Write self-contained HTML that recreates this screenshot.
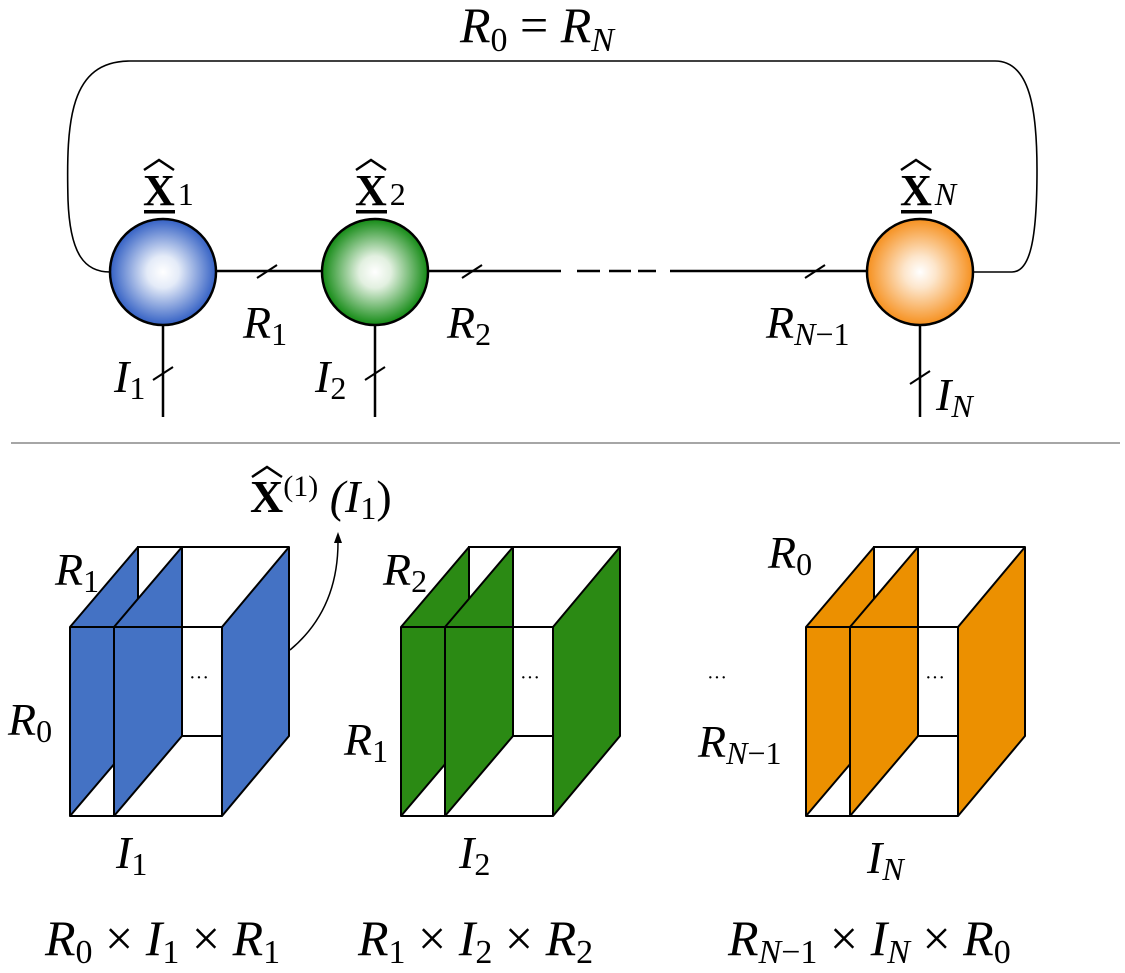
<!DOCTYPE html>
<html><head><meta charset="utf-8"><style>
html,body{margin:0;padding:0;background:#fff;}
svg{display:block;}
text{font-family:"Liberation Serif",serif;fill:#000;}
.it{font-style:italic;}
</style></head><body>
<svg width="1125" height="973" viewBox="0 0 1125 973" xmlns="http://www.w3.org/2000/svg">
<defs>
<radialGradient id="gb" cx="50%" cy="50%" r="50%"><stop offset="0" stop-color="#fff"/><stop offset="0.3" stop-color="#e4ebf8"/><stop offset="1" stop-color="#3360c4"/></radialGradient>
<radialGradient id="gg" cx="50%" cy="50%" r="50%"><stop offset="0" stop-color="#fff"/><stop offset="0.3" stop-color="#e2f0e0"/><stop offset="1" stop-color="#138a14"/></radialGradient>
<radialGradient id="go" cx="50%" cy="50%" r="50%"><stop offset="0" stop-color="#fff"/><stop offset="0.3" stop-color="#fde6cc"/><stop offset="1" stop-color="#f6901e"/></radialGradient>
<g id="cube">
 <polyline points="138,736 138,547 289,547" fill="none" stroke="#000" stroke-width="2"/>
 <line x1="182" y1="736" x2="289" y2="736" stroke="#000" stroke-width="2"/>
 <polygon points="70,627 138,547 138,736 70,816" stroke="#000" stroke-width="2" stroke-linejoin="round"/>
 <polygon points="114,627 182,547 182,736 114,816" stroke="#000" stroke-width="2" stroke-linejoin="round"/>
 <polygon points="222,627 289,547 289,736 222,816" stroke="#000" stroke-width="2" stroke-linejoin="round"/>
 <line x1="70" y1="627" x2="222" y2="627" stroke="#000" stroke-width="2"/>
 <line x1="70" y1="816" x2="222" y2="816" stroke="#000" stroke-width="2"/>
 <text x="189" y="684" font-size="20">···</text>
</g>
<path id="hat" d="M0,10 L15,0 L30,10" fill="none" stroke="#000" stroke-width="2.5"/>
</defs>

<!-- top loop -->
<path d="M110,272 C85,272 70,255 68,200 C66,120 70,61 130,61 L995,61 C1030,61 1037,110 1037,170 C1037,240 1030,272 1012,272 L973,272" fill="none" stroke="#000" stroke-width="1.6"/>
<text x="460" y="42" font-size="50" class="it">R<tspan font-size="34" dy="9" font-style="normal">0</tspan><tspan dy="-9" font-style="normal"> = </tspan>R<tspan font-size="34" dy="9">N</tspan></text>

<!-- main line -->
<line x1="216" y1="271" x2="561" y2="271" stroke="#000" stroke-width="2.5"/>
<line x1="577" y1="271" x2="600" y2="271" stroke="#000" stroke-width="2.5"/>
<line x1="609" y1="271" x2="631" y2="271" stroke="#000" stroke-width="2.5"/>
<line x1="638" y1="271" x2="656" y2="271" stroke="#000" stroke-width="2.5"/>
<line x1="670" y1="271" x2="867" y2="271" stroke="#000" stroke-width="2.5"/>
<line x1="257" y1="278" x2="277" y2="265" stroke="#000" stroke-width="2"/>
<line x1="462" y1="278" x2="482" y2="265" stroke="#000" stroke-width="2"/>
<line x1="805" y1="278" x2="825" y2="265" stroke="#000" stroke-width="2"/>
<line x1="163" y1="325" x2="163" y2="417" stroke="#000" stroke-width="2.5"/>
<line x1="375" y1="325" x2="375" y2="417" stroke="#000" stroke-width="2.5"/>
<line x1="920" y1="325" x2="920" y2="417" stroke="#000" stroke-width="2.5"/>
<line x1="153" y1="380" x2="173" y2="367" stroke="#000" stroke-width="2"/>
<line x1="365" y1="380" x2="385" y2="367" stroke="#000" stroke-width="2"/>
<line x1="910" y1="384" x2="930" y2="371" stroke="#000" stroke-width="2"/>

<circle cx="163" cy="272" r="53" fill="url(#gb)" stroke="#000" stroke-width="2.5"/>
<circle cx="375" cy="272" r="53" fill="url(#gg)" stroke="#000" stroke-width="2.5"/>
<circle cx="920" cy="272" r="53" fill="url(#go)" stroke="#000" stroke-width="2.5"/>

<g font-size="44">
<text x="143" y="205" font-weight="bold">X<tspan font-size="32" font-weight="normal" dx="3">1</tspan></text>
<use href="#hat" x="144" y="160"/><rect x="144" y="210" width="31" height="3.5" fill="#000"/>
<text x="355" y="205" font-weight="bold">X<tspan font-size="32" font-weight="normal" dx="3">2</tspan></text>
<use href="#hat" x="356" y="160"/><rect x="356" y="210" width="31" height="3.5" fill="#000"/>
<text x="900" y="205" font-weight="bold">X<tspan font-size="32" font-weight="normal" font-style="italic" dx="3">N</tspan></text>
<use href="#hat" x="901" y="160"/><rect x="901" y="210" width="31" height="3.5" fill="#000"/>
</g>

<g font-size="46" class="it">
<text x="243" y="338">R<tspan font-size="32" font-style="normal" dy="7">1</tspan></text>
<text x="447" y="338">R<tspan font-size="32" font-style="normal" dy="7">2</tspan></text>
<text x="766" y="338">R<tspan font-size="32" dy="7">N</tspan><tspan font-size="32" font-style="normal">−1</tspan></text>
<text x="114" y="392">I<tspan font-size="32" font-style="normal" dy="7">1</tspan></text>
<text x="315" y="392">I<tspan font-size="32" font-style="normal" dy="7">2</tspan></text>
<text x="936" y="410">I<tspan font-size="32" dy="7">N</tspan></text>
</g>

<line x1="11" y1="443" x2="1120" y2="443" stroke="#888" stroke-width="1.5"/>

<use href="#cube" fill="#4472c4"/>
<use href="#cube" fill="#2b8a14" transform="translate(331,0)"/>
<use href="#cube" fill="#ec9000" transform="translate(736,0)"/>

<path d="M290,650 C320,625 338,590 338,542" fill="none" stroke="#000" stroke-width="1.5"/>
<polygon points="338,532 334,543 342,543" fill="#000"/>
<text x="250" y="512" font-size="46"><tspan font-weight="bold">X</tspan><tspan font-size="30" dy="-16">(1)</tspan><tspan dy="16" font-style="italic"> (I</tspan><tspan font-size="32" dy="7">1</tspan><tspan dy="-7">)</tspan></text>
<use href="#hat" x="252" y="467"/>

<g font-size="46" class="it">
<text x="55" y="585">R<tspan font-size="32" font-style="normal" dy="7">1</tspan></text>
<text x="8" y="735">R<tspan font-size="32" font-style="normal" dy="7">0</tspan></text>
<text x="116" y="868">I<tspan font-size="32" font-style="normal" dy="7">1</tspan></text>
<text x="383" y="585">R<tspan font-size="32" font-style="normal" dy="7">2</tspan></text>
<text x="344" y="755">R<tspan font-size="32" font-style="normal" dy="7">1</tspan></text>
<text x="459" y="868">I<tspan font-size="32" font-style="normal" dy="7">2</tspan></text>
<text x="768" y="568">R<tspan font-size="32" font-style="normal" dy="7">0</tspan></text>
<text x="698" y="757">R<tspan font-size="32" dy="7">N</tspan><tspan font-size="32" font-style="normal">−1</tspan></text>
<text x="867" y="873">I<tspan font-size="32" dy="7">N</tspan></text>
</g>
<text x="707" y="684" font-size="20">···</text>

<g font-size="50" class="it">
<text x="45" y="955">R<tspan font-size="34" font-style="normal" dy="8">0</tspan><tspan dy="-8" font-style="normal"> × </tspan>I<tspan font-size="34" font-style="normal" dy="8">1</tspan><tspan dy="-8" font-style="normal"> × </tspan>R<tspan font-size="34" font-style="normal" dy="8">1</tspan></text>
<text x="358" y="955">R<tspan font-size="34" font-style="normal" dy="8">1</tspan><tspan dy="-8" font-style="normal"> × </tspan>I<tspan font-size="34" font-style="normal" dy="8">2</tspan><tspan dy="-8" font-style="normal"> × </tspan>R<tspan font-size="34" font-style="normal" dy="8">2</tspan></text>
<text x="728" y="955">R<tspan font-size="34" dy="8">N</tspan><tspan font-size="34" font-style="normal">−1</tspan><tspan dy="-8" font-style="normal"> × </tspan>I<tspan font-size="34" dy="8">N</tspan><tspan dy="-8" font-style="normal"> × </tspan>R<tspan font-size="34" font-style="normal" dy="8">0</tspan></text>
</g>
</svg>
</body></html>
